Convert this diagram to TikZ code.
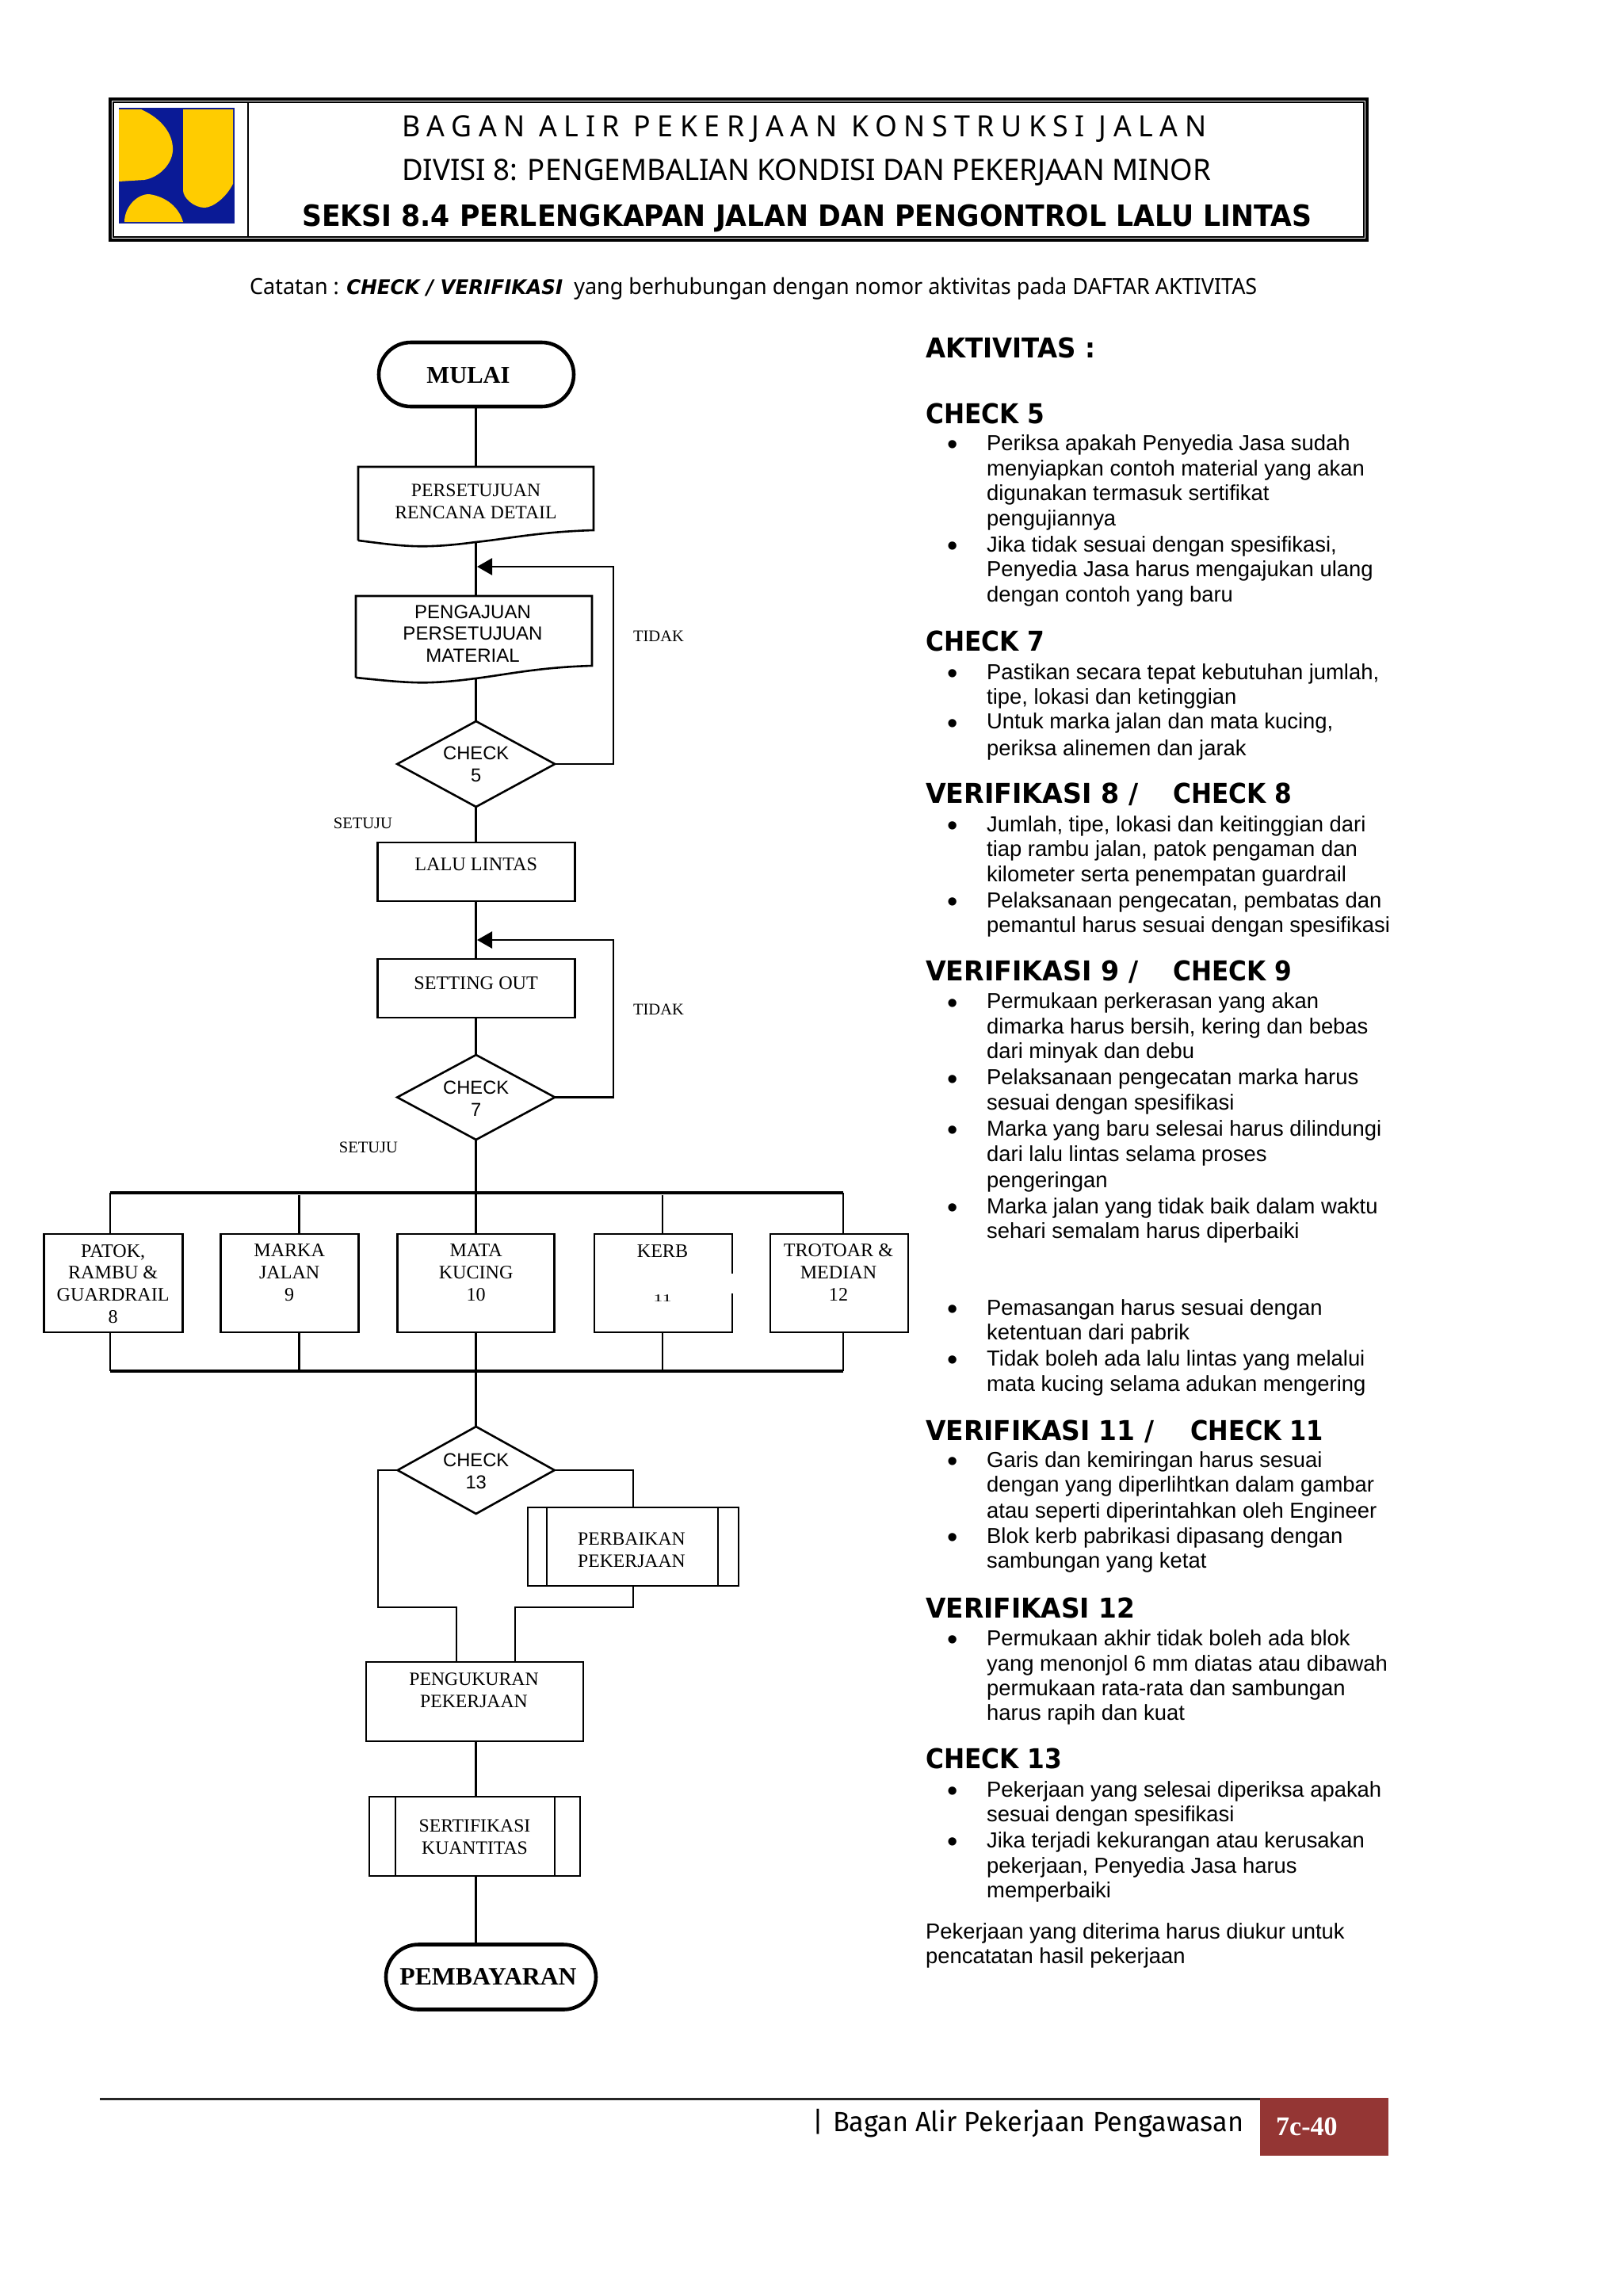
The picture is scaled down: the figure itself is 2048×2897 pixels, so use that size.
\documentclass[tikz,border=0pt]{standalone}
\usepackage{fontspec}
\usepackage{graphicx}
\usetikzlibrary{arrows.meta,shapes.geometric,shapes.misc,calc}
\setmainfont{Liberation Serif}
\newfontfamily\ar{Liberation Sans}
\newfontfamily\ta{Noto Sans}
\newfontfamily\tabf{DejaVu Sans}
\newfontfamily\tr{Fira Sans}
\definecolor{dublue}{HTML}{0A1A96}
\definecolor{duyel}{HTML}{FFCC00}
\definecolor{pagered}{HTML}{943634}
\newcommand\fs[2]{\fontsize{#1pt}{#2pt}\selectfont}
\newcommand\fitw[2]{\resizebox{#1pt}{\height}{#2}}
% dx, up: offset of the text; last line's baseline lies "up" above the node centre
\newcommand\lab[3]{\raisebox{#2pt}[0pt][0pt]{\makebox[0pt]{\hspace*{\dimexpr 2\dimexpr#1pt\relax\relax}\begin{tabular}[b]{@{}c@{}}#3\end{tabular}}}}
\newcommand\tl[3]{\node[rt] (#1) at (1245,{#2*1.848+8.8}) {#3};}
\newcommand\tb[3]{\node[bul] (#1b) at (1202,{#2*1.848+14}) {•};\node[rt] (#1) at (1245,{#2*1.848+8.8}) {#3};}
\newcommand\hd[4][1168]{\node[hdg] (#2) at (#1,{#3*1.848+12}) {#4};}
\tikzset{
  x=1pt,y=-1pt,
  ln/.style={line width=2.6pt,line join=miter},
  bus/.style={line width=3.4pt},
  box/.style={draw,line width=2.8pt,inner sep=0pt,outer sep=0pt,font=\fs{23.7}{28}},
  ghost/.style={inner sep=0pt,outer sep=0pt},
  dec/.style={draw,diamond,line width=2.6pt,inner sep=0pt,outer sep=0pt,font=\ar\fs{23.7}{27.7}},
  term/.style={draw,rounded rectangle,line width=4.6pt,inner sep=0pt,outer sep=0pt,font=\bfseries\fs{30.5}{34}},
  small/.style={anchor=base,inner sep=0pt,font=\fs{20.5}{24}},
  rt/.style={anchor=base west,inner sep=0pt,font=\ar\fs{27.4}{32}},
  bul/.style={anchor=base,inner sep=0pt,font=\ar\fs{38}{40}},
  hdg/.style={anchor=base west,inner sep=0pt,font=\tabf\bfseries\fs{34.5}{40}},
  hdr/.style={anchor=base west,inner sep=0pt},
  tip/.style={-{Triangle[length=19pt,width=21pt]}},
}
\begin{document}
\begin{tikzpicture}
\useasboundingbox (0,0) rectangle (2048,2897);
% header
\draw[line width=3.2pt] (139,125) rectangle (1725,303);
\draw[line width=1.5pt] (143,129) rectangle (1721,299);
\draw[line width=1.5pt] (313,129) -- (313,299);
% logo
\fill[dublue] (149.5,136) rectangle (296,282);
\fill[duyel] (150,138) -- (178,138) .. controls (205,150) and (219,170) .. (218,190)
  .. controls (217,208) and (200,224) .. (182,227) -- (150,229) -- cycle;
\fill[duyel] (231,138) -- (294,138) -- (294,232) .. controls (285,250) and (268,262) .. (258,262)
  .. controls (245,262) and (231,250) .. (231,240) -- cycle;
\fill[duyel] (157,280) .. controls (157,262) and (172,245) .. (188,245)
  .. controls (210,248) and (226,262) .. (231,280) -- cycle;
\node[hdr] (title1) at (507,172) {\ta\fs{37}{40}\addfontfeatures{LetterSpace=24}\fitw{1015}{BAGAN ALIR PEKERJAAN KONSTRUKSI JALAN}};
\node[hdr] (title2) at (507,227) {\ta\fs{37}{40}\fitw{1021}{DIVISI 8: PENGEMBALIAN KONDISI DAN PEKERJAAN MINOR}};
\node[hdr] (title3) at (381,285) {\tabf\bfseries\fs{37}{40}\fitw{1274}{SEKSI 8.4 PERLENGKAPAN JALAN DAN PENGONTROL LALU LINTAS}};
\node[hdr] (note) at (315,371) {\ta\fs{28}{32}\fitw{1271}{Catatan : {\tabf\bfseries\itshape\fs{25.5}{32}CHECK / VERIFIKASI}\ \ yang berhubungan dengan nomor aktivitas pada DAFTAR AKTIVITAS}};
% flow
\coordinate (cx) at (600.7,0);
\node[term,minimum width=246pt,minimum height=81pt] (mulai) at (601,472.5) {\lab{-10}{-10.5}{MULAI}};
\node[ghost,minimum width=297pt,minimum height=95pt] (d1) at (600.5,636.5) {\fs{23.7}{28.5}\lab{0}{-18}{PERSETUJUAN\\RENCANA DETAIL}};
\draw[ln] (d1.south west |- 0,682) -- (d1.north west) -- (d1.north east) -- (749,669)
  .. controls (680,671) and (640,680) .. (600,684) .. controls (570,688) and (545,690) .. (520,689)
  .. controls (495,688) and (470,684) .. (452,682);
\node[ghost,minimum width=298pt,minimum height=104pt] (d2) at (598,804) {\ar\fs{24}{27.7}\lab{-1.5}{-31.5}{PENGAJUAN\\PERSETUJUAN\\MATERIAL}};
\draw[ln] (449,855) -- (d2.north west) -- (d2.north east) -- (747,840)
  .. controls (680,842) and (640,851) .. (600,856) .. controls (570,860) and (545,862) .. (520,861)
  .. controls (495,860) and (470,857) .. (449,855);
\node[dec,minimum width=199pt,minimum height=108pt] (c5) at (600.7,964) {\lab{0}{-22.5}{CHECK\\5}};
\node[box,minimum width=249pt,minimum height=74pt] (lalu) at (600.7,1100) {\fs{24.2}{28}\lab{0}{1.5}{LALU LINTAS}};
\node[box,minimum width=249pt,minimum height=74pt] (setout) at (600.7,1247) {\fs{24.2}{28}\lab{0}{-1.5}{SETTING OUT}};
\node[dec,minimum width=199pt,minimum height=107pt] (c7) at (600.7,1384.5) {\lab{0}{-23.5}{CHECK\\7}};
\node[small] (tidak1) at (831,809) {TIDAK};
\node[small] (setuju1) at (458,1045) {SETUJU};
\node[small] (tidak2) at (831,1280) {TIDAK};
\node[small] (setuju2) at (465,1454) {SETUJU};
\coordinate (m1) at (602,715);
\coordinate (r5) at (774,964);
\coordinate (q5) at (774,715);
\coordinate (m2) at (602,1186);
\coordinate (r7) at (774,1384.5);
\coordinate (q7) at (774,1186);
\draw[ln] (cx |- mulai.south) -- (cx |- d1.north);
\draw[ln] (cx |- d1.south) -- (cx |- d2.north);
\draw[ln] (cx |- d2.south) -- (c5.north);
\draw[ln] (c5.south) -- (lalu.north);
\draw[ln] (lalu.south) -- (setout.north);
\draw[ln] (setout.south) -- (c7.north);
\draw[ln,tip] (c5.east) -- (r5) -- (q5) -- (m1);
\draw[ln,tip] (c7.east) -- (r7) -- (q7) -- (m2);
% five boxes
\node[box,minimum width=175pt,minimum height=124pt] (b1) at (142.7,1619) {\fs{24.1}{27.6}\lab{0}{-50}{PATOK,\\RAMBU \&\\GUARDRAIL\\8}};
\node[box,minimum width=174pt,minimum height=124pt] (b2) at (365.2,1619) {\fs{24.1}{27.6}\lab{0}{-22}{MARKA\\JALAN\\9}};
\node[box,minimum width=198pt,minimum height=124pt] (b3) at (600.7,1619) {\fs{24.1}{27.6}\lab{0}{-22}{MATA\\KUCING\\10}};
\node[box,minimum width=174pt,minimum height=124pt] (b4) at (837,1619) {\fs{24.1}{27.6}\lab{-1}{-23}{KERB\\ \\\scalebox{1}[.55]{11}}};
\node[box,minimum width=174pt,minimum height=124pt] (b5) at (1059,1619) {\fs{24.1}{27.6}\lab{-1}{-22}{TROTOAR \&\\MEDIAN\\12}};
\fill[white] (922.5,1607) rectangle (926,1632);
\foreach \n/\xx in {1/139,2/377.5,3/600.7,4/836,5/1064}{
  \coordinate (t\n) at (\xx,1505);
  \coordinate (u\n) at (\xx,1730);
}
\draw[bus] (t1) -- (t5);
\draw[bus] (u1) -- (u5);
\draw[ln] (c7.south) -- (t3) -- (b3.north);
\draw[ln] (t1) -- (t1 |- b1.north);
\draw[ln] (t2) ++(0,3) -- (t2 |- b2.north);
\draw[ln] (t4) ++(0,3) -- (t4 |- b4.north);
\draw[ln] (t5) -- (t5 |- b5.north);
\draw[ln] (t1 |- b1.south) -- (u1);
\draw[ln] (t2 |- b2.south) -- (u2);
\draw[ln] (b3.south) -- (u3);
\draw[ln] (t4 |- b4.south) -- (u4);
\draw[ln] (t5 |- b5.south) -- (u5);
% lower part
\node[dec,minimum width=198pt,minimum height=110pt] (c13) at (600.7,1855) {\lab{0}{-23.5}{CHECK\\13}};
\draw[ln] (u3) -- (c13.north);
\node[box,minimum width=266pt,minimum height=99pt] (perb) at (799,1951.5) {\fs{23.7}{28}\lab{-2}{-26}{PERBAIKAN\\PEKERJAAN}};
\draw[ln] (690,1902) -- (690,2001);
\draw[ln] (906,1902) -- (906,2001);
\node[box,minimum width=274pt,minimum height=100pt] (peng) at (599,2147) {\fs{23.7}{28}\lab{-1}{-7.5}{PENGUKURAN\\PEKERJAAN}};
\node[box,minimum width=266pt,minimum height=100pt] (sert) at (599,2317) {\fs{23.7}{28}\lab{0}{-22.5}{SERTIFIKASI\\KUANTITAS}};
\draw[ln] (499,2267) -- (499,2367);
\draw[ln] (700,2267) -- (700,2367);
\node[term,minimum width=265pt,minimum height=82pt,font=\bfseries\fs{31.7}{34}] (pay) at (619.5,2494.5) {\lab{-3.5}{-9.5}{PEMBAYARAN}};
\coordinate (l1) at (477,1855);
\coordinate (l2) at (477,2028);
\coordinate (l3) at (576,2028);
\coordinate (r1) at (799,1855);
\coordinate (r2) at (799,2028);
\coordinate (r3) at (650,2028);
\draw[ln] (c13.west) -- (l1) -- (l2) -- (l3) -- (l3 |- peng.north);
\draw[ln] (c13.east) -- (r1) -- (perb.north);
\draw[ln] (perb.south) -- (r2) -- (r3) -- (r3 |- peng.north);
\draw[ln] (cx |- peng.south) -- (cx |- sert.north);
\draw[ln] (cx |- sert.south) -- (cx |- pay.north);
% right column
\hd{h0}{238}{\fitw{214}{AKTIVITAS :}}
\hd{h5}{283}{\fitw{150}{CHECK 5}}
\tb{a1}{303}{Periksa apakah Penyedia Jasa sudah}
\tl{a2}{320}{menyiapkan contoh material yang akan}
\tl{a3}{337}{digunakan termasuk sertifikat}
\tl{a4}{354}{pengujiannya}
\tb{a5}{372}{Jika tidak sesuai dengan spesifikasi,}
\tl{a6}{389}{Penyedia Jasa harus mengajukan ulang}
\tl{a7}{406}{dengan contoh yang baru}
\hd{h7}{438}{\fitw{150}{CHECK 7}}
\tb{b1t}{459}{Pastikan secara tepat kebutuhan jumlah,}
\tl{b2t}{476}{tipe, lokasi dan ketinggian}
\tb{b3t}{493}{Untuk marka jalan dan mata kucing,}
\tl{b4t}{511}{periksa alinemen dan jarak}
\hd{h8}{542}{\fitw{268}{VERIFIKASI 8 /}\hspace{44pt}\fitw{150}{CHECK 8}}
\tb{c1}{563}{Jumlah, tipe, lokasi dan keitinggian dari}
\tl{c2}{580}{tiap rambu jalan, patok pengaman dan}
\tl{c3}{597}{kilometer serta penempatan guardrail}
\tb{c4}{615}{Pelaksanaan pengecatan, pembatas dan}
\tl{c5t}{632}{pemantul harus sesuai dengan spesifikasi}
\hd{h9}{663}{\fitw{268}{VERIFIKASI 9 /}\hspace{44pt}\fitw{150}{CHECK 9}}
\tb{d1t}{684}{Permukaan perkerasan yang akan}
\tl{d2t}{701}{dimarka harus bersih, kering dan bebas}
\tl{d3t}{718}{dari minyak dan debu}
\tb{d4t}{736}{Pelaksanaan pengecatan marka harus}
\tl{d5t}{753}{sesuai dengan spesifikasi}
\tb{d6t}{771}{Marka yang baru selesai harus dilindungi}
\tl{d7t}{788}{dari lalu lintas selama proses}
\tl{d8t}{806}{pengeringan}
\tb{d9t}{824}{Marka jalan yang tidak baik dalam waktu}
\tl{d10t}{841}{sehari semalam harus diperbaiki}
\tb{e1}{893}{Pemasangan harus sesuai dengan}
\tl{e2}{910}{ketentuan dari pabrik}
\tb{e3}{928}{Tidak boleh ada lalu lintas yang melalui}
\tl{e4}{945}{mata kucing selama adukan mengering}
\hd{h11}{977}{\fitw{288}{VERIFIKASI 11 /}\hspace{46pt}\fitw{168}{CHECK 11}}
\tb{f1}{997}{Garis dan kemiringan harus sesuai}
\tl{f2}{1014}{dengan yang diperlihtkan dalam gambar}
\tl{f3}{1032}{atau seperti diperintahkan oleh Engineer}
\tb{f4}{1049}{Blok kerb pabrikasi dipasang dengan}
\tl{f5}{1066}{sambungan yang ketat}
\hd{h12}{1098}{\fitw{264}{VERIFIKASI 12}}
\tb{g1}{1119}{Permukaan akhir tidak boleh ada blok}
\tl{g2}{1136}{yang menonjol 6 mm diatas atau dibawah}
\tl{g3}{1153}{permukaan rata-rata dan sambungan}
\tl{g4}{1170}{harus rapih dan kuat}
\hd{h13}{1201}{\fitw{172}{CHECK 13}}
\tb{k1}{1222}{Pekerjaan yang selesai diperiksa apakah}
\tl{k2}{1239}{sesuai dengan spesifikasi}
\tb{k3}{1257}{Jika terjadi kekurangan atau kerusakan}
\tl{k4}{1274}{pekerjaan, Penyedia Jasa harus}
\tl{k5}{1291}{memperbaiki}
\node[rt] (z1) at (1168,{1319*1.848+8.8}) {Pekerjaan yang diterima harus diukur untuk};
\node[rt] (z2) at (1168,{1336*1.848+8.8}) {pencatatan hasil pekerjaan};
% footer
\draw[line width=3pt,black!85] (126,2648) -- (1590,2648);
\fill[pagered] (1590,2647) rectangle (1752,2720);
\node[hdr] (foot) at (1025,2689) {\tr\fs{35}{40}\fitw{544}{|\hspace{3pt} Bagan Alir Pekerjaan Pengawasan}};
\node[hdr,text=white] (pg) at (1610,2694) {\bfseries\fs{34}{38}7c-40};
\end{tikzpicture}
\end{document}
